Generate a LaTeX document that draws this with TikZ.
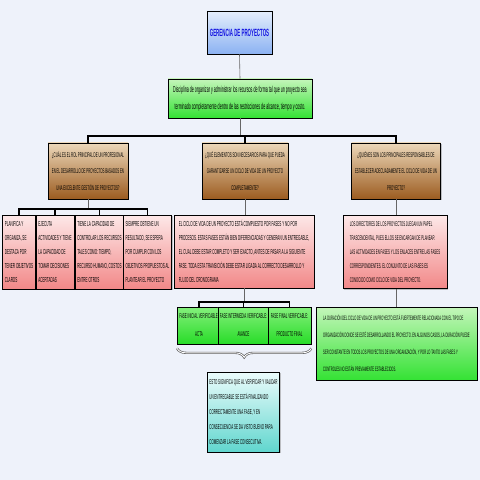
\documentclass[tikz,border=0pt]{standalone}
\usepackage{fontspec}
\newfontfamily\narrowfont{Liberation Sans}[FakeStretch=0.42]
\usetikzlibrary{shadows,decorations.pathreplacing}

\definecolor{paper}{RGB}{238,242,250}
\definecolor{titleblue}{RGB}{20,20,225}
\definecolor{bluetop}{RGB}{228,238,252}
\definecolor{bluebot}{RGB}{140,178,242}
\definecolor{greentop}{RGB}{196,246,186}
\definecolor{greenbot}{RGB}{52,226,52}
\definecolor{browntop}{RGB}{236,216,186}
\definecolor{brownbot}{RGB}{156,92,32}
\definecolor{pinktop}{RGB}{253,232,232}
\definecolor{pinkbot}{RGB}{242,136,136}
\definecolor{phasetop}{RGB}{132,240,124}
\definecolor{phasebot}{RGB}{40,220,40}
\definecolor{cyantop}{RGB}{236,252,252}
\definecolor{cyanbot}{RGB}{96,214,206}

\tikzset{
  card/.style={draw=black, line width=0.7pt, inner sep=2bp,
    drop shadow={shadow xshift=1.2bp, shadow yshift=-1.2bp, opacity=.45}},
  titlecard/.style={card, top color=bluetop, bottom color=bluebot, text=titleblue,
    font=\narrowfont\bfseries\fontsize{10.5}{12}\selectfont},
  defcard/.style={card, top color=greentop, bottom color=greenbot, align=center,
    font=\narrowfont\fontsize{8.7}{17}\selectfont},
  askcard/.style={card, top color=browntop, bottom color=brownbot, align=center,
    font=\narrowfont\fontsize{6.9}{17}\selectfont},
  notecard/.style={card, top color=pinktop, bottom color=pinkbot, align=left,
    font=\narrowfont\fontsize{7.3}{14}\selectfont},
  phasecard/.style={card, top color=phasetop, bottom color=phasebot, align=center,
    font=\narrowfont\fontsize{7}{18}\selectfont},
  meancard/.style={card, top color=cyantop, bottom color=cyanbot, align=left,
    font=\narrowfont\fontsize{7.1}{15}\selectfont},
  longcard/.style={card, top color=greentop, bottom color=greenbot, align=left,
    font=\narrowfont\fontsize{6.4}{17}\selectfont},
  stem/.style={draw=gray!80!black, line width=0.6pt},
  bus/.style={draw=black, line width=1.3pt},
}

\begin{document}
\begin{tikzpicture}[x=1bp, y=-1bp]
    \fill[paper] (0,0) rectangle (480,480);
    \useasboundingbox (0,0) rectangle (480,480);

    \node[titlecard, minimum width=65bp, minimum height=43bp] (title) at (239.5,32.5) {GERENCIA DE PROYECTOS};

    \node[defcard, minimum width=144bp, minimum height=39bp] (def) at (240,98.5)
        {Disciplina de organizar y administrar los recursos de forma tal que un proyecto sea\\
         terminado completamente dentro de las restricciones de alcance, tiempo y costo.};

    \node[askcard, minimum width=80bp, minimum height=56bp] (b1) at (88,171)
        {¿CUÁL ES EL ROL PRINCIPAL DE UN PROFESIONAL\\ EN EL DESARROLLO DE PROYECTOS BASADOS EN\\ UNA EXCELENTE GESTIÓN DE PROYECTOS?};
    \node[askcard, minimum width=86bp, minimum height=56bp] (b2) at (245,171)
        {¿QUÉ ELEMENTOS SON NECESARIOS PARA QUE PUEDA\\ GARANTIZARSE UN CICLO DE VIDA DE UN PROYECTO\\ COMPLETAMENTE?};
    \node[askcard, minimum width=89bp, minimum height=56bp] (b3) at (396,171)
        {¿QUIÉNES SON LOS PRINCIPALES RESPONSABLES DE\\ ESTABLECER ADECUADAMENTE EL CICLO DE VIDA DE UN\\ PROYECTO?};

    \node[notecard, minimum width=33bp, minimum height=74bp] (p1) at (19,252)
        {PLANIFICA Y\\ ORGANIZA, SE\\ DESTACA POR\\ TENER OBJETIVOS\\ CLAROS};
    \node[notecard, minimum width=38bp, minimum height=74bp] (p2) at (55,252)
        {EJECUTA\\ ACTIVIDADES Y TIENE\\ LA CAPACIDAD DE\\ TOMAR DECISIONES\\ ACERTADAS};
    \node[notecard, minimum width=49bp, minimum height=74bp] (p3) at (99.5,252)
        {TIENE LA CAPACIDAD DE\\ CONTROLAR LOS RECURSOS\\ TALES COMO: TIEMPO,\\ RECURSO HUMANO, COSTOS\\ ENTRE OTROS};
    \node[notecard, minimum width=45bp, minimum height=74bp] (p4) at (147.5,252)
        {SIEMPRE OBTIENE UN\\ RESULTADO, SE ESPERA\\ POR CUMPLIR CON LOS\\ OBJETIVOS PROPUESTOS AL\\ PLANTEAR EL PROYECTO};

    \node[notecard, minimum width=140bp, minimum height=73bp] (pc) at (244,251.5)
        {EL CICLO DE VIDA DE UN PROYECTO ESTÁ COMPUESTO POR FASES Y NO POR\\
         PROCESOS. ESTAS FASES ESTÁN BIEN DIFERENCIADAS Y GENERAN UN ENTREGABLE,\\
         EL CUAL DEBE ESTAR COMPLETO Y SER EXACTO, ANTES DE PASAR A LA SIGUIENTE\\
         FASE. TODA ESTA TRANSICIÓN DEBE ESTAR LIGADA AL CORRECTO DESARROLLO Y\\
         FLUJO DEL CRONOGRAMA};
    \node[notecard, minimum width=104bp, minimum height=73bp, font=\narrowfont\fontsize{6.85}{14}\selectfont] (pr) at (395,252)
        {LOS DIRECTORES DE LOS PROYECTOS JUEGAN UN PAPEL\\
         TRASCENDENTAL, PUES ELLOS SE ENCARGAN DE PLANEAR\\
         LAS ACTIVIDADES EN FASES Y LOS ENLACES ENTRE LAS FASES\\
         CORRESPONDIENTES. EL CONJUNTO DE LAS FASES ES\\
         CONOCIDO COMO CICLO DE VIDA DEL PROYECTO.};

    \node[phasecard, minimum width=40bp, minimum height=37bp] (f1) at (199,325.5)
        {FASE INICIAL VERIFICABLE:\\ ACTA};
    \node[phasecard, minimum width=49bp, minimum height=37bp] (f2) at (243.5,325.5)
        {FASE INTERMEDIA VERIFICABLE:\\ AVANCE};
    \node[phasecard, minimum width=43bp, minimum height=37bp] (f3) at (289.5,325.5)
        {FASE FINAL VERIFICABLE:\\ PRODUCTO FINAL};

    \node[meancard, minimum width=69bp, minimum height=80bp] (mean) at (243.5,412)
        {ESTO SIGNIFICA QUE AL VERIFICAR Y VALIDAR\\ UN ENTREGABLE SE ESTÁ FINALIZANDO\\
         CORRECTAMENTE UNA FASE, Y EN\\ CONSECUENCIA SE DA VISTO BUENO PARA\\ COMENZAR LA FASE CONSECUTIVA.};

    \node[longcard, minimum width=161bp, minimum height=73bp] (gr) at (396.5,343.5)
        {LA DURACIÓN DEL CICLO DE VIDA DE UN PROYECTO ESTÁ FUERTEMENTE RELACIONADA CON EL TIPO DE\\
         ORGANIZACIÓN DONDE SE ESTÉ DESARROLLANDO EL PROYECTO. EN ALGUNOS CASOS, LA DURACIÓN PUEDE\\
         SER CONSTANTE EN TODOS LOS PROYECTOS DE UNA ORGANIZACIÓN, Y POR LO TANTO LAS FASES Y\\
         CONTROLES NO ESTÁN PREVIAMENTE ESTABLECIDOS.};

    \coordinate (busA) at (240,136);
    \coordinate (busB) at (88,209);
    \coordinate (busC) at (244,302);

    \draw[stem] (title.south) -- (def.north);
    \draw[stem] (def.south) -- (busA);
    \draw[bus] (b1.north) |- (busA) -| (b3.north);
    \draw[bus] (b2.north) -- (b2.north |- busA);

    \draw[stem] (b1.south) -- (busB);
    \draw[bus] (p1.north) |- (busB) -| (p4.north);
    \draw[bus] (p2.north) -- (p2.north |- busB);
    \draw[bus] (p3.north) -- (p3.north |- busB);

    \draw[stem] (b2.south) -- (b2.south |- pc.north);
    \draw[stem] (b3.south) -- (b3.south |- pr.north);

    \draw[stem] (pc.south) -- (busC);
    \draw[bus] (f1.north) |- (busC) -| (f3.north);
    \draw[bus] (f2.north) -- (f2.north |- busC);

    \draw[stem] (gr.north) -- (gr.north |- pr.south);

    \draw[gray!70!black, line width=2.2pt, decorate, decoration={brace, mirror, amplitude=9bp}]
        ([yshift=-4bp]f1.south west) -- ([yshift=-4bp]f3.south east);
    \draw[white, line width=0.9pt, decorate, decoration={brace, mirror, amplitude=9bp}]
        ([yshift=-4bp]f1.south west) -- ([yshift=-4bp]f3.south east);
\end{tikzpicture}
\end{document}
